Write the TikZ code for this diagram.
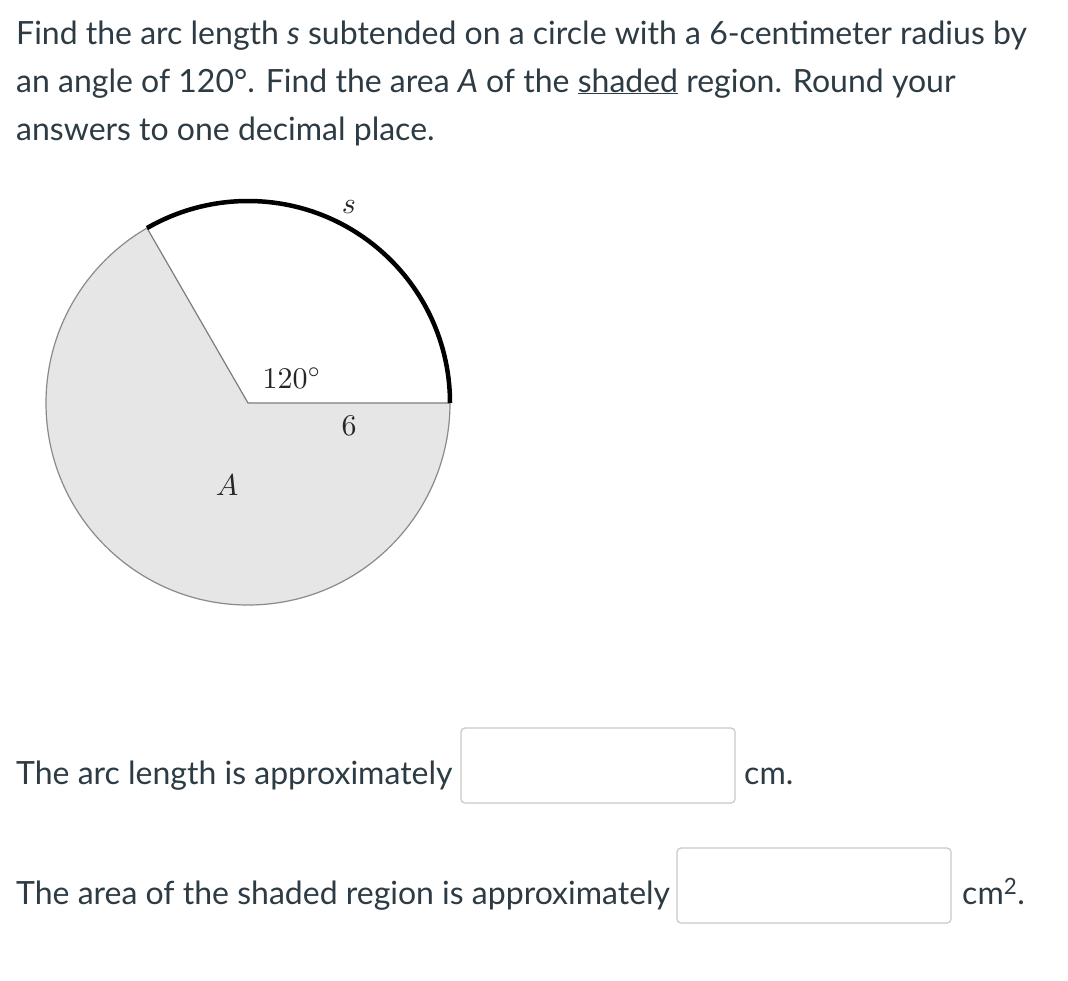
\documentclass[tikz,border=0pt]{standalone}
\usepackage[no-math]{fontspec}
\setmainfont{Lato}
\usetikzlibrary{calc}
\definecolor{txt}{HTML}{2D3B45}
\definecolor{shadefill}{HTML}{E6E6E6}
\definecolor{rimgray}{HTML}{8A8A8A}
\definecolor{boxgray}{HTML}{C8C8C8}
\begin{document}
\begin{tikzpicture}[x=1pt,y=1pt,
  bodytext/.style={anchor=base west, inner sep=0pt, text=txt, font=\fontsize{32}{38}\selectfont},
  figlabel/.style={inner sep=0pt, scale=3, text=black!85},
  ansbox/.style={draw=boxgray, line width=1.2pt, rounded corners=4pt, fill=white, minimum width=274pt, minimum height=75pt, inner sep=0pt}]
\useasboundingbox[fill=white] (0,0) rectangle (1068,-980);
% question text
\node[bodytext] (q1) at (16,-44) {Find the arc length \textit{s} subtended on a circle with a 6-centimeter radius by};
\node[bodytext] (q2) at (16,-92) {an angle of 120°. Find the area \textit{A} of the \underline{shaded} region. Round your};
\node[bodytext] (q3) at (16,-140) {answers to one decimal place.};
% figure
\coordinate (O) at (248,-403);
\coordinate (P0) at ($(O)+(0:202)$);
\coordinate (P120) at ($(O)+(120:202)$);
\fill[shadefill] (O) circle (202);
\fill[white] (O) -- (P0) arc[start angle=0, end angle=120, radius=202] -- cycle;
\draw[rimgray, line width=1.2pt] (O) circle (202);
\draw[rimgray!90!black, line width=1.2pt] (P120) -- (O) -- (P0);
\draw[black, line width=4.5pt] (P0) arc[start angle=0, end angle=120, radius=202];
\node[figlabel] (ls) at (349,-207) {$s$};
\node[figlabel] (lang) at (292,-378) {$120^\circ$};
\node[figlabel] (lr) at (349,-426) {$6$};
\node[figlabel] (lA) at (227,-485) {$A$};
% answers
\node[bodytext] (a1) at (16,-784) {The arc length is approximately};
\node[ansbox] (box1) at (598,-765.5) {};
\node[bodytext] (u1) at (744,-784) {cm.};
\node[bodytext] (a2) at (16,-904) {The area of the shaded region is approximately};
\node[ansbox] (box2) at (814,-885.5) {};
\node[bodytext] (u2) at (962,-904) {cm\textsuperscript{2}.};
\end{tikzpicture}
\end{document}
